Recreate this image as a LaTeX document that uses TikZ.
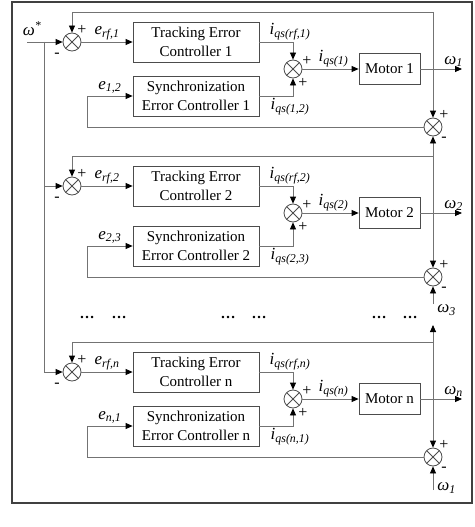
\documentclass[tikz,border=0pt]{standalone}
\usepackage{fontspec}
\setmainfont{Liberation Serif}
\usetikzlibrary{arrows.meta}

\begin{document}
\begin{tikzpicture}[
    x=1pt, y=-1pt,
    line width=0.8pt,
    font=\fontsize{15}{18.5}\selectfont,
    wire/.style={draw=black!55},
    arr/.style={wire, -{Triangle[length=7pt, width=6pt, color=black]}},
    block/.style={draw=black!70, minimum width=126pt, minimum height=40pt, align=center, inner sep=1pt},
    motor/.style={block, minimum width=61pt, minimum height=31pt},
    summer/.style={draw=black!70, circle, minimum size=18pt, inner sep=0pt,
        path picture={\draw[black!70] (path picture bounding box.north west) -- (path picture bounding box.south east)
            (path picture bounding box.south west) -- (path picture bounding box.north east);}},
    pm/.style={inner sep=0pt, font=\fontsize{16}{16}\selectfont},
    lbl/.style={font=\fontsize{17}{17}\selectfont\itshape, inner sep=2pt},
    ]
    \useasboundingbox (0,0) rectangle (474,527);
    \draw[black!75, line width=2pt] (12,2) rectangle (472,503);
    \foreach \k/\nx/\Y/\d in {1/2/12/0, 2/3/156/6, n/1/342/0}{
        \coordinate (tap\k) at (433,\Y);
        \coordinate (lp\k) at (87,\Y+115+\d);
        \coordinate (w\k) at (462,\Y+57);
        \node[summer] (sl\k) at (72,\Y+30) {};
        \node[block] (tec\k) at (196,\Y+30) {Tracking Error\\Controller \k};
        \node[block] (sec\k) at (196,\Y+84+\d) {Synchronization\\Error Controller \k};
        \node[summer] (sm\k) at (293,\Y+57) {};
        \node[motor] (mot\k) at (389.5,\Y+57) {Motor \k};
        \node[summer] (sr\k) at (433,\Y+115+\d) {};
        \node[pm] (pa\k) at ([shift={(10,-12)}]sl\k.center) {+};
        \node[pm] (ma\k) at ([shift={(-15,13)}]sl\k.center) {-};
        \node[pm] (pb\k) at ([shift={(14,-8)}]sm\k.center) {+};
        \node[pm] (pc\k) at ([shift={(10,14)}]sm\k.center) {+};
        \node[pm] (pd\k) at ([shift={(11,-12)}]sr\k.center) {+};
        \node[pm] (md\k) at ([shift={(11,12)}]sr\k.center) {-};
        \draw[arr] (sl\k) -- node[lbl, above]{e\textsubscript{rf,\k}} (tec\k);
        \draw[arr] (tec\k.east) -| node[lbl, above, pos=.5, xshift=-3pt]{i\textsubscript{qs(rf,\k)}} (sm\k.north);
        \draw[arr] (sec\k.east) -| node[lbl, below, pos=.5, xshift=-3pt]{i\textsubscript{qs(\k,\nx)}} (sm\k.south);
        \draw[arr] (sm\k) -- node[lbl, above, xshift=3pt]{i\textsubscript{qs(\k)}} (mot\k);
        \draw[arr] (mot\k) -- node[lbl, above, pos=.8]{ω\textsubscript{\k}} (w\k);
        \draw[arr] (tap\k) -| (sl\k.north);
        \draw[arr] (tap\k) -- (sr\k.north);
        \draw[arr] (sr\k.west) -- (lp\k) |- node[lbl, above, pos=.75]{e\textsubscript{\k,\nx}} (sec\k.west);
    }
    \coordinate (ws) at (27,42);
    \coordinate (j1) at (44,42);
    \node[lbl] (wstar) at (32,29) {ω\textsuperscript{*}};
    \draw[arr] (ws) -- (sl1);
    \draw[arr] (j1) |- (sl2);
    \draw[arr] (j1) |- (sln);
    \draw[arr] (tap2) -- (sr1.south);
    \coordinate (w3) at (433,304);
    \draw[arr] (w3) -- (sr2.south);
    \node[lbl, anchor=west] (lw3) at (435,310) {ω\textsubscript{3}};
    \draw[arr] (tapn) -- ++(0,-17);
    \coordinate (w1b) at (433,490);
    \draw[arr] (w1b) -- (srn.south);
    \node[lbl, anchor=west] (lw1) at (435,488) {ω\textsubscript{1}};
    \foreach \x [count=\i] in {87,119,228,259,379,410}
        \node[anchor=base] (dots\i) at (\x,318) {\textbf{\ldots}};
\end{tikzpicture}
\end{document}
